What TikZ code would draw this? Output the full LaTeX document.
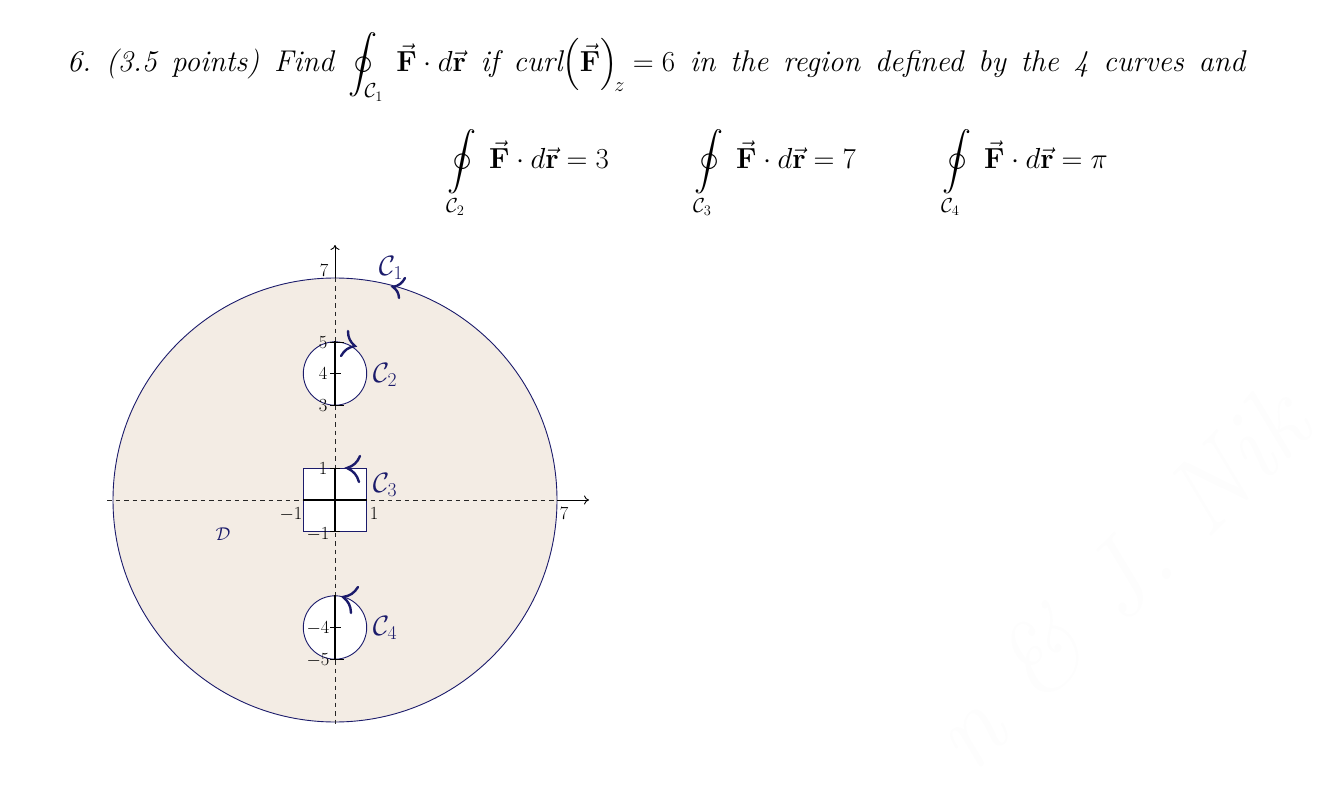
\documentclass[tikz,border=0pt]{standalone}
\usepackage{fix-cm}
\usepackage{amsmath}
\usepackage{amsfonts}
\usepackage{amssymb}
\usepackage[]{xcolor}
\usetikzlibrary{arrows.meta, positioning}
\definecolor{curvenavy}{HTML}{1B1B6B}
\definecolor{regionfill}{HTML}{F3ECE4}
\newcommand{\mathpart}[1]{\mbox{\fontsize{29}{34}\selectfont$\displaystyle #1$}}
\newcommand{\fieldint}{\;\vec{\mathbf{F}}\cdot d\vec{\mathbf{r}}}
\tikzset{
		body text/.style={anchor=base west, inner sep=0pt, font=\fontsize{30}{36}\selectfont},
		round curve/.style={draw=curvenavy, circle, fill=white, line width=0.9pt, inner sep=0pt, minimum size=63.4pt},
		square curve/.style={draw=curvenavy, rectangle, fill=white, line width=0.9pt, inner sep=0pt, minimum size=63.4pt},
		curve label/.style={text=curvenavy, inner sep=0pt, font=\fontsize{28}{34}\selectfont},
		tick label/.style={inner sep=0pt, font=\fontsize{18.5}{20}\selectfont},
		dash axis/.style={line width=1pt, draw=black!85, dash pattern=on 4.5pt off 4pt},
		hole axis/.style={line width=1.3pt, draw=black},
		tick line/.style={line width=0.9pt, draw=black},
		orient mark/.style={draw=curvenavy, line width=2.4pt, line cap=round}
	}

\begin{document}
\begin{tikzpicture}[x=1pt,y=-1pt,>={Computer Modern Rightarrow[width=9pt,length=5pt]}]
				\useasboundingbox (0,0) rectangle (1320,794);
				% watermark
				\node[rotate=45, text=black!0.9, inner sep=0pt, font=\fontsize{105}{110}\selectfont\itshape] (mark) at (1118,578) {n \& J. Nik};
				% statement
				\node[body text] (line1) at (67,72) {\makebox[1178pt][s]{\itshape 6.\ (3.5 points) Find \mathpart{\oint_{\mathcal{C}_1}\fieldint} if curl\mathpart{\left(\vec{\mathbf{F}}\right)_{\!z} = 6} in the region defined by the 4 curves and}};
				\node[body text] (int2) at (447,169) {\mathpart{\oint\limits_{\mathcal{C}_2}\fieldint = 3}};
				\node[body text] (int3) at (694,169) {\mathpart{\oint\limits_{\mathcal{C}_3}\fieldint = 7}};
				\node[body text] (int4) at (942,169) {\mathpart{\oint\limits_{\mathcal{C}_4}\fieldint = \pi}};
				% region and curves
				\node[draw=curvenavy, fill=regionfill, circle, line width=0.9pt, inner sep=0pt, minimum size=444pt] (c1) at (335,500) {};
				\node[round curve]  (c2) at (335,373.5) {};
				\node[square curve] (c3) at (335,500) {};
				\node[round curve]  (c4) at (335,627.5) {};
				% axes
				\coordinate (xl) at (107,500);
				\coordinate (xr) at (589,500);
				\coordinate (yt) at (335,245);
				\coordinate (yb) at (335,728);
				\draw[dash axis] (xl) -- (c1.east);
				\draw[dash axis] (c1.north) -- (yb);
				\draw[line width=0.9pt, ->] (c1.east) -- (xr);
				\draw[line width=0.9pt, ->] (c1.north) -- (yt);
				\draw[hole axis] (c2.north) -- (c2.south);
				\draw[hole axis] (c3.north) -- (c3.south);
				\draw[hole axis] (c3.west) -- (c3.east);
				\draw[hole axis] (c4.north) -- (c4.south);
				% ticks
				\draw[tick line] (330,373.5) -- (341,373.5);
				\draw[tick line] (330,627.5) -- (341,627.5);
				\draw[tick line] (330,342) -- (344,342);
				\draw[tick line] (330,405) -- (344,405);
				\draw[tick line] (330,468.5) -- (340,468.5);
				\draw[tick line] (330,531.5) -- (340,531.5);
				\draw[tick line] (330,659) -- (344,659);
				\node[tick label] (y7)  at (324,271) {$7$};
				\node[tick label] (y5)  at (323,343) {$5$};
				\node[tick label] (y4)  at (323,374) {$4$};
				\node[tick label] (y3)  at (323,406) {$3$};
				\node[tick label] (y1)  at (323,469) {$1$};
				\node[tick label] (ym1) at (318,534) {$-1$};
				\node[tick label] (ym4) at (318,628) {$-4$};
				\node[tick label] (ym5) at (318,660) {$-5$};
				\node[tick label] (xm1) at (291,514) {$-1$};
				\node[tick label] (x1)  at (374,514) {$1$};
				\node[tick label] (x7)  at (564,514) {$7$};
				% curve names
				\node[curve label] (l1) at (391,268) {$\mathcal{C}_1$};
				\node[curve label] (l2) at (385,375) {$\mathcal{C}_2$};
				\node[curve label] (l3) at (385,485) {$\mathcal{C}_3$};
				\node[curve label] (l4) at (385,628) {$\mathcal{C}_4$};
				\node[curve label, font=\fontsize{18.5}{20}\selectfont] (ld) at (223,534) {$\mathcal{D}$};
				% orientation marks
				\draw[orient mark] (405,278) to[bend left=25] (393,287) to[bend left=25] (399,298);
				\draw[orient mark] (348,331) to[bend right=25] (355,346) to[bend right=25] (341,356);
				\draw[orient mark] (360,456) to[bend left=25] (347,468) to[bend left=25] (359,482);
				\draw[orient mark] (358,587) to[bend left=25] (343,597) to[bend left=25] (351,613);
			\end{tikzpicture}
\end{document}
